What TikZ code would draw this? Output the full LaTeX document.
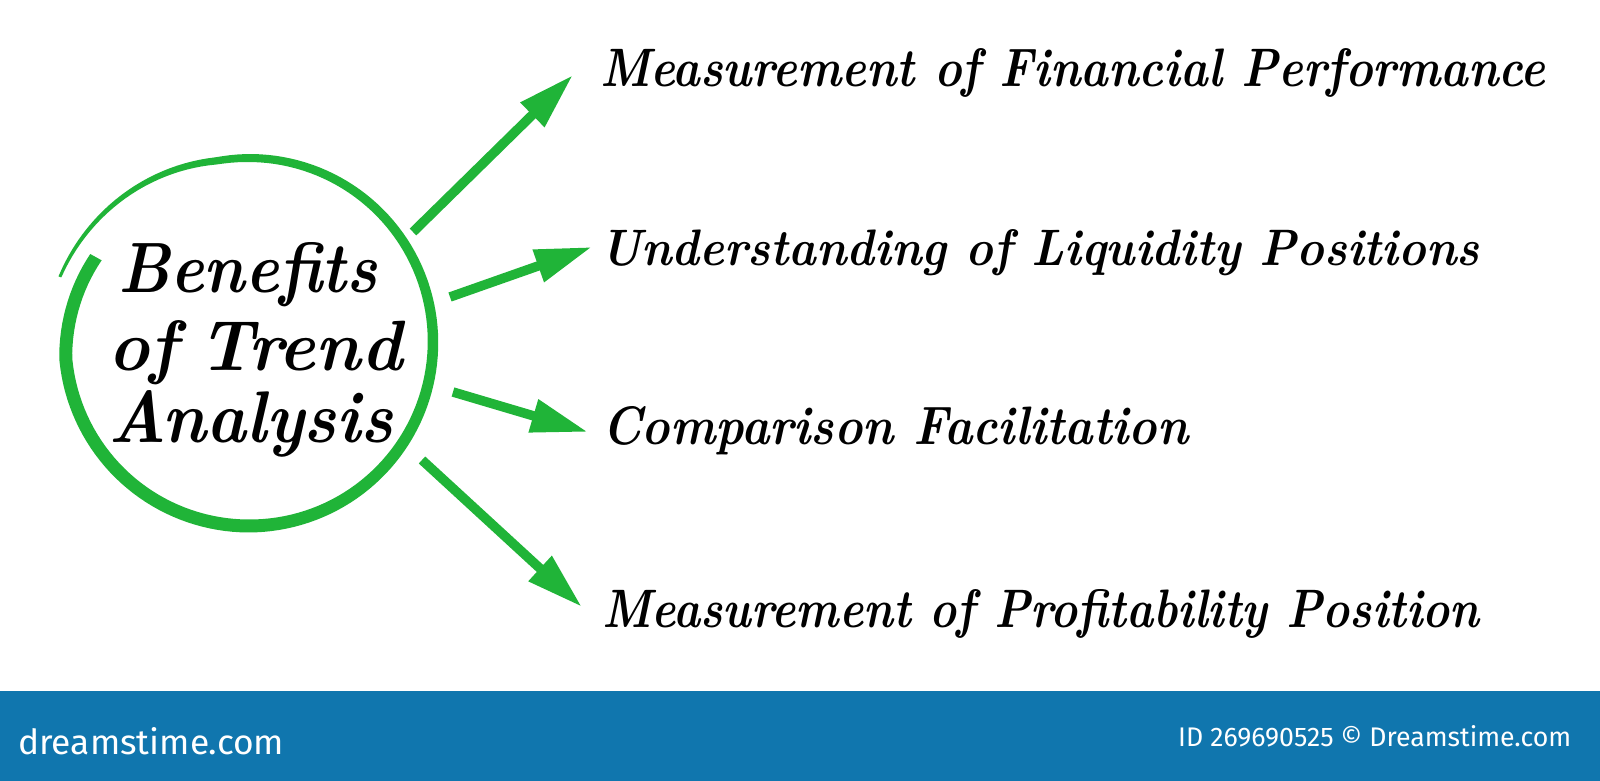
\documentclass[tikz,border=0pt]{standalone}
\usepackage{fontspec}
\newfontfamily\barfont{Fira Sans}
\usetikzlibrary{arrows.meta}
\definecolor{tgreen}{RGB}{32,180,56}
\definecolor{barblue}{RGB}{16,118,174}
\begin{document}
\begin{tikzpicture}[x=1pt,y=-1pt,
  declare function={
    RR(\t)=184-9*max(0,(185-\t)/34)+16*max(0,(\t-460)/61);
    WW(\t)=13-5*max(0,min(1,(\t-270)/180))-5*max(0,(\t-450)/71);
  },
  arr/.style={draw=tgreen, line width=9.5pt, line cap=butt,
    -{Triangle[length=57pt,width=32pt]}, fill=tgreen},
  item/.style={anchor=base west, inner sep=0pt},
  ctext/.style={anchor=base west, inner sep=0pt},
  bartext/.style={anchor=base west, inner sep=0pt, text=white}
]
\useasboundingbox (0,0) rectangle (1600,781);
\fill[white] (0,0) rectangle (1600,781);
% bottom bar
\fill[barblue] (0,691) rectangle (1600,781);
\node[bartext] (logo) at (18,754) {\resizebox{266pt}{27pt}{\barfont dreamstime.com}};
\node[bartext] (idtxt) at (1178,746) {\resizebox{393pt}{21pt}{\barfont ID 269690525 © Dreamstime.com}};
% hand-drawn circle
\fill[tgreen]
  plot[domain=151:521,samples=160,variable=\t]
    ({249+(RR(\t)+WW(\t)/2)*cos(\t)},{342-(RR(\t)+WW(\t)/2)*sin(\t)})
  -- plot[domain=521:151,samples=160,variable=\t]
    ({249+(RR(\t)-WW(\t)/2)*cos(\t)},{342-(RR(\t)-WW(\t)/2)*sin(\t)})
  -- cycle;
% circle text
\node[ctext] (c1) at (118,292) {\resizebox{259pt}{50pt}{\bfseries\itshape Benefits}};
\node[ctext] (c2) at (108,370) {\resizebox{294pt}{50pt}{\bfseries\itshape of\kern-0.1em\ Trend}};
\node[ctext] (c3) at (108,442) {\resizebox{285pt}{52pt}{\bfseries\itshape Analysis}};
% items
\node[item] (t1) at (600,87) {\resizebox{945pt}{38pt}{\bfseries\itshape Measurement of Financial Performance}};
\node[item] (t2) at (600,265) {\resizebox{879pt}{36pt}{\bfseries\itshape Understanding of Liquidity Positions}};
\node[item] (t3) at (602,444) {\resizebox{586pt}{38pt}{\bfseries\itshape Comparison Facilitation}};
\node[item] (t4) at (602,627) {\resizebox{877pt}{38pt}{\bfseries\itshape Measurement of Profitability Position}};
% arrows
\coordinate (a1s) at (413,232); \coordinate (a1e) at (573,75);
\coordinate (a2s) at (450,297); \coordinate (a2e) at (592,247);
\coordinate (a3s) at (453,392); \coordinate (a3e) at (588,432);
\coordinate (a4s) at (422,460); \coordinate (a4e) at (582,607);
\draw[arr] (a1s) -- (a1e);
\draw[arr] (a2s) -- (a2e);
\draw[arr] (a3s) -- (a3e);
\draw[arr] (a4s) -- (a4e);
\end{tikzpicture}
\end{document}
